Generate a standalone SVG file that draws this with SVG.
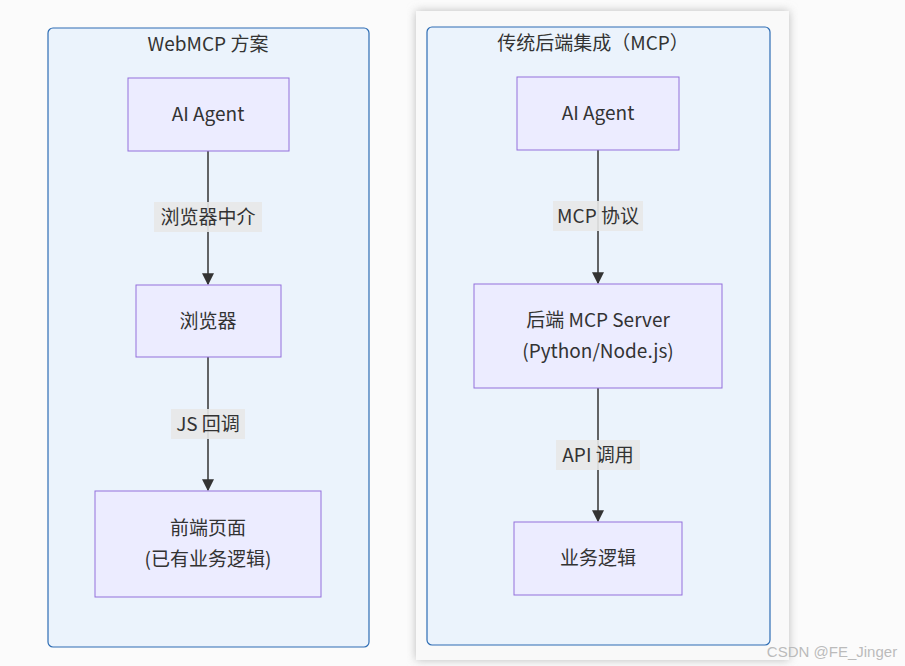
<svg xmlns="http://www.w3.org/2000/svg" width="905" height="666" viewBox="0 0 905 666">
<style>
text{font-family:"Noto Sans CJK SC","Noto Sans",sans-serif;fill:#333;text-anchor:middle}
.cl{fill:#ebf3fc;stroke:#2e6db4;stroke-width:1.2}
.nd{fill:#ececff;stroke:#9370db;stroke-width:1}
.t{font-size:19px}
.lb{fill:#e8e8e8;opacity:.9}
.e{stroke:#333;stroke-width:1.5;fill:none;marker-end:url(#a)}
</style>
<defs>
<marker id="a" viewBox="0 0 10 10" refX="9" refY="5" markerWidth="8" markerHeight="8" orient="auto"><path d="M0,0L10,5L0,10z" fill="#333"/></marker>
<filter id="sh" x="-10%" y="-10%" width="120%" height="120%"><feGaussianBlur stdDeviation="5"/></filter>
</defs>
<rect width="905" height="666" fill="#fbfbfb"/>
<rect x="416" y="11" width="373" height="649" fill="#bbb" filter="url(#sh)"/>
<rect x="416" y="11" width="373" height="649" fill="#f9f9f9"/>
<g id="cluster-webmcp"><rect class="cl" x="48" y="28" width="321" height="619" rx="5"/><text class="t" x="208" y="51">WebMCP 方案</text></g>
<g id="cluster-trad"><rect class="cl" x="427" y="27" width="343" height="618" rx="5"/><text class="t" x="593" y="50">传统后端集成（MCP）</text></g>
<g id="connectors">
<path class="e" d="M208,151V284"/>
<path class="e" d="M208,357V490"/>
<path class="e" d="M598,150V283"/>
<path class="e" d="M598,388V521"/>
<rect class="lb" x="154" y="202" width="108" height="30"/><text class="t" x="208" y="224">浏览器中介</text>
<rect class="lb" x="171" y="409" width="74" height="30"/><text class="t" x="208" y="431">JS 回调</text>
<rect class="lb" x="553" y="201" width="90" height="30"/><text class="t" x="598" y="223">MCP 协议</text>
<rect class="lb" x="556" y="440" width="84" height="30"/><text class="t" x="598" y="462">API 调用</text>
</g>
<g id="n1"><rect class="nd" x="128" y="78" width="161" height="73"/><text class="t" x="208" y="121">AI Agent</text></g>
<g id="n2"><rect class="nd" x="136" y="285" width="145" height="72"/><text class="t" x="208" y="328">浏览器</text></g>
<g id="n3"><rect class="nd" x="95" y="491" width="226" height="106"/><text class="t" x="208" y="535">前端页面</text><text class="t" x="208" y="566">(已有业务逻辑)</text></g>
<g id="n4"><rect class="nd" x="517" y="77" width="162" height="73"/><text class="t" x="598" y="120">AI Agent</text></g>
<g id="n5"><rect class="nd" x="474" y="284" width="248" height="104"/><text class="t" x="598" y="327">后端 MCP Server</text><text class="t" x="598" y="358">(Python/Node.js)</text></g>
<g id="n6"><rect class="nd" x="514" y="522" width="168" height="73"/><text class="t" x="598" y="565">业务逻辑</text></g>
<text x="832" y="657" style="font-size:15px;fill:#bbb;font-family:'Liberation Sans',sans-serif">CSDN @FE_Jinger</text>
</svg>
